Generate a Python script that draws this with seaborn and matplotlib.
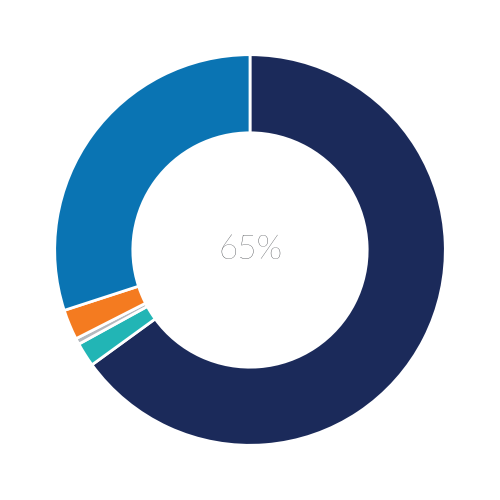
import matplotlib
matplotlib.use("Agg")
import matplotlib.pyplot as plt
import seaborn as sns

# segment shares, clockwise from 12 o'clock
labels = ['Navy', 'Teal', 'Gray', 'Orange', 'Blue']
shares = [65, 2, 0.5, 2.5, 30]
colors = ['#1b2a5a', '#22b5b5', '#b4b9bf', '#f47b20', '#0a74b3']
center_text = '65%'

sns.set_theme(style='white')
plt.rcParams['font.family'] = ['Lato', 'DejaVu Sans']

fig = plt.figure(figsize=(5, 5), dpi=100)
ax = fig.add_axes([0, 0, 1, 1])
ax.pie(shares, colors=colors, startangle=90, counterclock=False, radius=1,
       wedgeprops=dict(width=0.4, edgecolor='white', linewidth=2))
ax.text(0, 0, center_text, ha='center', va='center', fontsize=24,
        color='#3a3d42', fontweight='light')
ax.set_xlim(-1.28, 1.28)
ax.set_ylim(-1.28, 1.28)
ax.set_aspect('equal')
ax.axis('off')
fig.savefig('out.png', dpi=100, facecolor='white')
